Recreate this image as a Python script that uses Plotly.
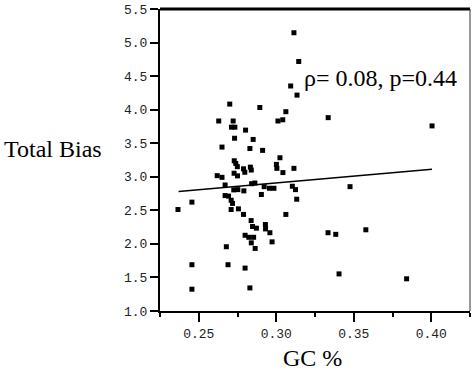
import plotly.graph_objects as go

# GC % (x) and Total Bias (y) per point
gc = [0.3114, 0.3145, 0.3093, 0.3134, 0.2700, 0.2894, 0.3062, 0.3335, 0.3042, 0.3011,
      0.2629, 0.2722, 0.2711, 0.2733, 0.2802, 0.2731, 0.2851, 0.2650, 0.2830, 0.2912,
      0.4005, 0.3024, 0.2729, 0.2739, 0.2749, 0.2789, 0.2833, 0.2839, 0.3001, 0.3004,
      0.3114, 0.2728, 0.2750, 0.2797, 0.3043, 0.2619, 0.2650, 0.2670, 0.2841, 0.2862,
      0.2922, 0.2956, 0.2985, 0.3104, 0.3124, 0.2726, 0.2752, 0.2791, 0.3132, 0.2670,
      0.2692, 0.2709, 0.2718, 0.2904, 0.2456, 0.2366, 0.2709, 0.2756, 0.3476, 0.2789,
      0.3062, 0.2838, 0.2847, 0.2872, 0.2930, 0.2931, 0.2959, 0.3334, 0.3384, 0.3578,
      0.2799, 0.2823, 0.2854, 0.2839, 0.2973, 0.2678, 0.2864, 0.2456, 0.2689, 0.2799,
      0.2456, 0.2830, 0.3405, 0.3841]
bias = [5.149, 4.720, 4.355, 4.219, 4.085, 4.034, 3.972, 3.883, 3.851, 3.833,
        3.833, 3.833, 3.741, 3.741, 3.697, 3.576, 3.558, 3.444, 3.423, 3.395,
        3.760, 3.285, 3.240, 3.200, 3.152, 3.120, 3.145, 3.102, 3.186, 3.127,
        3.127, 3.054, 3.015, 3.069, 3.064, 3.018, 2.993, 2.879, 2.898, 2.908,
        2.854, 2.830, 2.830, 2.860, 2.810, 2.806, 2.810, 2.791, 2.667, 2.721,
        2.713, 2.652, 2.604, 2.737, 2.623, 2.513, 2.513, 2.523, 2.854, 2.440,
        2.440, 2.348, 2.260, 2.235, 2.289, 2.224, 2.167, 2.167, 2.143, 2.211,
        2.129, 2.099, 2.099, 2.016, 2.031, 1.958, 1.933, 1.690, 1.690, 1.640,
        1.325, 1.344, 1.553, 1.480]

# regression line end points
fit_x = [0.2370, 0.4005]
fit_y = [2.781, 3.113]

x_ticks = [0.25, 0.30, 0.35, 0.40]
x_tick_labels = ["0.25", "0.30", "0.35", "0.40"]
y_ticks = [1.0, 1.5, 2.0, 2.5, 3.0, 3.5, 4.0, 4.5, 5.0, 5.5]
y_tick_labels = ["1.0", "1.5", "2.0", "2.5", "3.0", "3.5", "4.0", "4.5", "5.0", "5.5"]
stat_text = "ρ= 0.08, p=0.44"

fig = go.Figure()
fig.add_trace(go.Scatter(x=fit_x, y=fit_y, mode="lines",
                         line=dict(color="black", width=1.5), showlegend=False))
fig.add_trace(go.Scatter(x=gc, y=bias, mode="markers",
                         marker=dict(symbol="square", size=5, color="black",
                                     line=dict(width=0)),
                         showlegend=False))

tick_font = dict(family="Liberation Mono", size=13, color="#222")
fig.update_layout(
    width=474, height=371,
    margin=dict(l=160, r=4, t=3, b=60),
    plot_bgcolor="white", paper_bgcolor="white",
    xaxis=dict(range=[0.225, 0.425], tickvals=x_ticks, ticktext=x_tick_labels,
               ticks="outside", ticklen=9, tickwidth=2, tickcolor="black",
               showline=True, linecolor="black", linewidth=2,
               showgrid=False, zeroline=False, tickfont=tick_font,
               ticklabeloverflow="allow",
               minor=dict(tick0=0.225, dtick=0.05, ticks="outside", ticklen=4,
                          tickwidth=1.5, tickcolor="black", showgrid=False)),
    yaxis=dict(range=[1.0, 5.503], tickvals=y_ticks, ticktext=y_tick_labels,
               ticks="outside", ticklen=8, tickwidth=2, tickcolor="black",
               showline=True, linecolor="black", linewidth=2,
               showgrid=False, zeroline=False, tickfont=tick_font,
               ticklabeloverflow="allow"),
    annotations=[
        dict(text="Total Bias", xref="paper", yref="paper", x=-0.51, y=0.536,
             xanchor="left", yanchor="middle", showarrow=False,
             font=dict(family="Liberation Serif", size=24, color="black")),
        dict(text="GC %", xref="paper", yref="paper", x=0.492, y=-0.156,
             xanchor="center", yanchor="middle", showarrow=False,
             font=dict(family="Liberation Serif", size=24, color="black")),
        dict(text=stat_text, xref="paper", yref="paper", x=0.7107, y=0.773,
             xanchor="center", yanchor="middle", showarrow=False,
             font=dict(family="Liberation Serif", size=24, color="black")),
    ],
    shapes=[
        dict(type="line", xref="paper", yref="paper", x0=0, x1=1, y0=1, y1=1,
             line=dict(color="black", width=3)),
        dict(type="line", xref="paper", yref="paper", x0=1, x1=1, y0=0, y1=1,
             line=dict(color="#333", width=1)),
    ],
)

fig.write_html("out.html", config={"displayModeBar": False},
               post_script="document.body.style.margin='0';document.body.style.padding='0';")
